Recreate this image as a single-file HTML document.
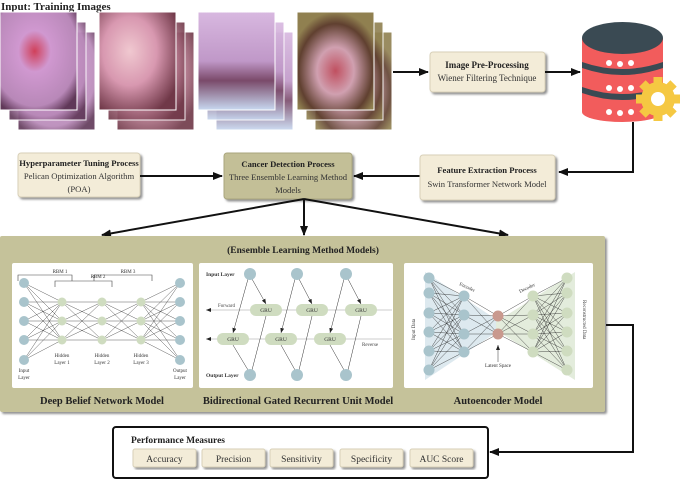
<!DOCTYPE html>
<html><head><meta charset="utf-8"><style>
html,body{margin:0;padding:0;background:#fff}
svg{display:block}
text{font-family:"Liberation Serif",serif}
</style></head><body>
<svg id="s" width="685" height="479" viewBox="0 0 685 479" xmlns="http://www.w3.org/2000/svg">
<defs>
<marker id="ah" markerWidth="10" markerHeight="8" refX="9" refY="4" orient="auto" markerUnits="userSpaceOnUse"><path d="M0,0 L10,4 L0,8 z" fill="#111"/></marker>
<marker id="sa" markerWidth="5" markerHeight="4" refX="5" refY="2" orient="auto" markerUnits="userSpaceOnUse"><path d="M0,0 L5,2 L0,4 z" fill="#222"/></marker>
<filter id="sh" x="-5%" y="-5%" width="115%" height="120%"><feDropShadow dx="2" dy="2" stdDeviation="1" flood-color="#777" flood-opacity="0.8"/></filter>
<radialGradient id="g1" cx="45%" cy="40%" r="70%"><stop offset="0" stop-color="#d0405a"/><stop offset="0.3" stop-color="#d098d0"/><stop offset="0.8" stop-color="#b888b8"/><stop offset="1" stop-color="#603858"/></radialGradient>
<radialGradient id="g2" cx="40%" cy="40%" r="70%"><stop offset="0" stop-color="#f0c8d0"/><stop offset="0.5" stop-color="#d898b0"/><stop offset="1" stop-color="#703848"/></radialGradient>
<linearGradient id="g3" x1="0" y1="0" x2="0" y2="1"><stop offset="0" stop-color="#d8b8e0"/><stop offset="0.5" stop-color="#c098c8"/><stop offset="0.7" stop-color="#7a4a6a"/><stop offset="1" stop-color="#c8d8f0"/></linearGradient>
<radialGradient id="g4" cx="50%" cy="60%" r="60%"><stop offset="0" stop-color="#c05060"/><stop offset="0.4" stop-color="#d0a0b0"/><stop offset="0.8" stop-color="#604030"/><stop offset="1" stop-color="#908050"/></radialGradient>
</defs>

<text x="1" y="10" font-size="11" font-weight="bold" fill="#222">Input: Training Images</text>
<g id="imgs"></g>

<line x1="393" y1="72" x2="428" y2="72" stroke="#111" stroke-width="2" marker-end="url(#ah)"/>
<rect x="430" y="52" width="115" height="40" rx="3" fill="#f3ecd8" stroke="#d8d0b8" filter="url(#sh)"/>
<text x="487" y="68" font-size="9" font-weight="bold" text-anchor="middle" fill="#222">Image Pre-Processing</text>
<text x="487" y="81" font-size="9" text-anchor="middle" fill="#333">Wiener Filtering Technique</text>
<line x1="545" y1="72" x2="580" y2="72" stroke="#111" stroke-width="2" marker-end="url(#ah)"/>

<rect x="582" y="38" width="81" height="74" fill="#f25c5c"/>
<ellipse cx="622.5" cy="112" rx="40.5" ry="10" fill="#f25c5c"/>
<path d="M582,62 Q622,76 663,62 L663,68 Q622,82 582,68z" fill="#3a4a53"/>
<path d="M582,87 Q622,101 663,87 L663,93 Q622,107 582,93z" fill="#3a4a53"/>
<ellipse cx="622.5" cy="38" rx="40.5" ry="16" fill="#3a4a53"/>
<g fill="#fff"><circle cx="609" cy="63" r="3"/><circle cx="620" cy="64" r="3"/><circle cx="631" cy="63" r="3"/>
<circle cx="609" cy="88" r="3"/><circle cx="620" cy="89" r="3"/><circle cx="631" cy="88" r="3"/>
<circle cx="609" cy="112" r="3"/><circle cx="620" cy="113" r="3"/><circle cx="631" cy="112" r="3"/></g>
<g transform="translate(658,99)" fill="#f5c842">
<circle r="17"/>
<g id="teeth"></g>
<circle r="7" fill="#fff"/>
</g>
<polyline points="633,122 633,172 559,172" fill="none" stroke="#111" stroke-width="2" marker-end="url(#ah)"/>

<rect x="18" y="153" width="122" height="44" rx="3" fill="#f3ecd8" stroke="#d8d0b8" filter="url(#sh)"/>
<text x="79" y="166" font-size="8.6" font-weight="bold" text-anchor="middle" fill="#222">Hyperparameter Tuning Process</text>
<text x="79" y="179" font-size="8.6" text-anchor="middle" fill="#333">Pelican Optimization Algorithm</text>
<text x="79" y="192" font-size="8.6" text-anchor="middle" fill="#333">(POA)</text>
<line x1="140" y1="176" x2="222" y2="176" stroke="#111" stroke-width="2" marker-end="url(#ah)"/>
<rect x="224" y="153" width="128" height="46" rx="3" fill="#c3bf97" stroke="#aaa67e" filter="url(#sh)"/>
<text x="288" y="167" font-size="8.6" font-weight="bold" text-anchor="middle" fill="#222">Cancer Detection Process</text>
<text x="288" y="180" font-size="8.6" text-anchor="middle" fill="#333">Three Ensemble Learning Method</text>
<text x="288" y="193" font-size="8.6" text-anchor="middle" fill="#333">Models</text>
<line x1="420" y1="176" x2="354" y2="176" stroke="#111" stroke-width="2" marker-end="url(#ah)"/>
<rect x="420" y="155" width="135" height="45" rx="3" fill="#f3ecd8" stroke="#d8d0b8" filter="url(#sh)"/>
<text x="487" y="173" font-size="8.6" font-weight="bold" text-anchor="middle" fill="#222">Feature Extraction Process</text>
<text x="487" y="187" font-size="8.6" text-anchor="middle" fill="#333">Swin Transformer Network Model</text>

<line x1="304" y1="199" x2="102" y2="235" stroke="#111" stroke-width="2" marker-end="url(#ah)"/>
<line x1="304" y1="199" x2="304" y2="235" stroke="#111" stroke-width="2" marker-end="url(#ah)"/>
<line x1="304" y1="199" x2="508" y2="235" stroke="#111" stroke-width="2" marker-end="url(#ah)"/>

<rect x="0" y="236" width="605" height="176" rx="2" fill="#c5c29a" filter="url(#sh)"/>
<text x="303" y="253" font-size="9.5" font-weight="bold" text-anchor="middle" fill="#222">(Ensemble Learning Method Models)</text>
<rect x="12" y="263" width="181" height="125" rx="2" fill="#fff"/>
<rect x="199" y="263" width="194" height="125" rx="2" fill="#fff"/>
<rect x="404" y="263" width="189" height="125" rx="2" fill="#fff"/>
<text x="102" y="404" font-size="10.5" font-weight="bold" text-anchor="middle" fill="#222">Deep Belief Network Model</text>
<text x="298" y="404" font-size="10.5" font-weight="bold" text-anchor="middle" fill="#222">Bidirectional Gated Recurrent Unit Model</text>
<text x="498" y="404" font-size="10.5" font-weight="bold" text-anchor="middle" fill="#222">Autoencoder Model</text>
<g id="dbn"></g><g id="gru"></g><g id="ae"></g>

<polyline points="606,325 633,325 633,452 490,452" fill="none" stroke="#111" stroke-width="2" marker-end="url(#ah)"/>

<rect x="113" y="427" width="375" height="51" rx="3" fill="#fff" stroke="#111" stroke-width="2"/>
<text x="131" y="443" font-size="9.5" font-weight="bold" fill="#222">Performance Measures</text>
<g id="pm"></g>
</svg>
<script>
const NS="http://www.w3.org/2000/svg";
function el(p,t,a,txt){const e=document.createElementNS(NS,t);for(const k in a)e.setAttribute(k,a[k]);if(txt!=null)e.textContent=txt;document.getElementById(p).appendChild(e);return e;}
const fr=[[0,'g1'],[99,'g2'],[198,'g3'],[297,'g4']];
fr.forEach(([x,g])=>{for(let k=2;k>=0;k--){el('imgs','rect',{x:x+k*9,y:12+k*10,width:77,height:98,fill:'url(#'+g+')',stroke:'#fff','stroke-width':1,opacity:k?0.9:1});}});
for(let i=0;i<8;i++){el('teeth','rect',{x:-4.5,y:-22,width:9,height:9,transform:'rotate('+(i*45)+')'});}
const L=[[24,[283,302,321,340,360]],[62,[302,321,340]],[102,[302,321,340]],[141,[302,321,340]],[180,[283,302,321,340,360]]];
for(let i=0;i<4;i++)L[i][1].forEach(a=>L[i+1][1].forEach(b=>el('dbn','line',{x1:L[i][0],y1:a,x2:L[i+1][0],y2:b,stroke:'#333','stroke-width':0.4})));
L.forEach(([x,ys],i)=>ys.forEach(y=>el('dbn','circle',{cx:x,cy:y,r:(i==0||i==4)?5:4.5,fill:(i==0||i==4)?'#a9c4cc':'#cfdcc0'})));
const br=[[18,72,275,60,'RBM 1',274],[55,112,281,98,'RBM 2',279],[94,152,275,128,'RBM 3',274]];
br.forEach(([a,b,y,tx,t,ty])=>{el('dbn','polyline',{points:`${a},${y+6} ${a},${y} ${b},${y} ${b},${y+6}`,fill:'none',stroke:'#444','stroke-width':0.6});el('dbn','text',{x:tx,y:ty-1,'font-size':5,'text-anchor':'middle',fill:'#333'},t);});
[[24,'Input','Layer',372],[62,'Hidden','Layer 1',357],[102,'Hidden','Layer 2',357],[141,'Hidden','Layer 3',357],[180,'Output','Layer',372]].forEach(([x,a,b,y])=>{el('dbn','text',{x:x,y:y,'font-size':5,'text-anchor':'middle',fill:'#333'},a);el('dbn','text',{x:x,y:y+7,'font-size':5,'text-anchor':'middle',fill:'#333'},b);});
el('gru','line',{x1:392,y1:310,x2:206,y2:310,stroke:'#ccc','stroke-width':1,'marker-end':'url(#sa)'});
el('gru','line',{x1:392,y1:339,x2:206,y2:339,stroke:'#ccc','stroke-width':1,'marker-end':'url(#sa)'});
const tx=[250,297,346],fx=[266,312,361],rx=[233,281,330];
for(let i=0;i<3;i++){
 el('gru','line',{x1:tx[i]+2,y1:279,x2:fx[i],y2:304,stroke:'#333','stroke-width':0.5,'marker-end':'url(#sa)'});
 el('gru','line',{x1:tx[i]-2,y1:279,x2:rx[i],y2:333,stroke:'#333','stroke-width':0.5,'marker-end':'url(#sa)'});
 el('gru','line',{x1:fx[i],y1:316,x2:tx[i]+2,y2:370,stroke:'#333','stroke-width':0.5,'marker-start':'url(#sa)'});
 el('gru','line',{x1:rx[i],y1:345,x2:tx[i]-2,y2:370,stroke:'#333','stroke-width':0.5,'marker-start':'url(#sa)'});
 el('gru','circle',{cx:tx[i],cy:274,r:6,fill:'#a9c4cc'});el('gru','circle',{cx:tx[i],cy:375,r:6,fill:'#a9c4cc'});
 el('gru','rect',{x:fx[i]-16,y:304,width:32,height:12,rx:6,fill:'#cfdcc0'});el('gru','text',{x:fx[i],y:312,'font-size':5.5,'text-anchor':'middle',fill:'#333'},'GRU');
 el('gru','rect',{x:rx[i]-16,y:333,width:32,height:12,rx:6,fill:'#cfdcc0'});el('gru','text',{x:rx[i],y:341,'font-size':5.5,'text-anchor':'middle',fill:'#333'},'GRU');
}
el('gru','text',{x:206,y:276,'font-size':5.5,'font-weight':'bold',fill:'#333'},'Input Layer');
el('gru','text',{x:206,y:377,'font-size':5.5,'font-weight':'bold',fill:'#333'},'Output Layer');
el('gru','text',{x:218,y:307,'font-size':5,fill:'#444'},'Forward');
el('gru','text',{x:362,y:346,'font-size':5,fill:'#444'},'Reverse');
el('ae','polygon',{points:'425,272 500,322 500,330 425,380',fill:'#dde9ef'});
el('ae','polygon',{points:'575,272 496,322 496,330 575,380',fill:'#e3ecdc'});
const A=[[429,[278,293,313,332,351,370]],[464,[296,315,334,352]],[498,[316,334]],[533,[296,315,334,352]],[567,[278,293,313,332,351,370]]];
for(let i=0;i<4;i++)A[i][1].forEach(a=>A[i+1][1].forEach(b=>el('ae','line',{x1:A[i][0],y1:a,x2:A[i+1][0],y2:b,stroke:'#222','stroke-width':0.4})));
A.forEach(([x,ys],i)=>ys.forEach(y=>el('ae','circle',{cx:x,cy:y,r:5.5,fill:i==2?'#c9998e':(i<2?'#a9c4cc':'#cfdcc0')})));
el('ae','text',{x:0,y:0,'font-size':5,fill:'#333',transform:'translate(415,340) rotate(-90)'},'Input Data');
el('ae','text',{x:0,y:0,'font-size':5,fill:'#333',transform:'translate(583,300) rotate(90)'},'Reconstructed Data');
el('ae','text',{x:0,y:0,'font-size':5,fill:'#333',transform:'translate(459,285) rotate(25)'},'Encoder');
el('ae','text',{x:0,y:0,'font-size':5,fill:'#333',transform:'translate(520,293) rotate(-25)'},'Decoder');
el('ae','text',{x:498,y:367,'font-size':5,'text-anchor':'middle',fill:'#333'},'Latent Space');
el('ae','line',{x1:498,y1:362,x2:498,y2:345,stroke:'#333','stroke-width':0.5,'marker-end':'url(#sa)'});
[['Accuracy',133],['Precision',202],['Sensitivity',270],['Specificity',340],['AUC Score',410]].forEach(([t,x])=>{
 el('pm','rect',{x:x,y:449,width:63,height:18,rx:2,fill:'#f3ecd8',stroke:'#d8d0b8',filter:'url(#sh)'});
 el('pm','text',{x:x+31.5,y:462,'font-size':9.5,'text-anchor':'middle',fill:'#333'},t);
});
</script>
</body></html>
